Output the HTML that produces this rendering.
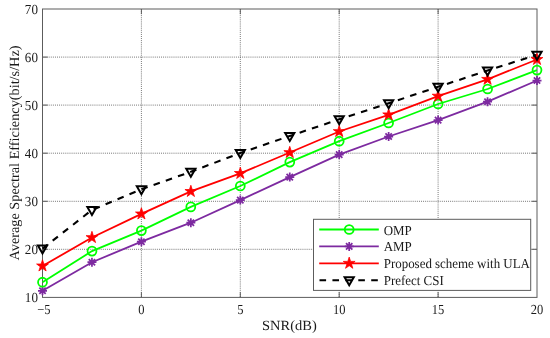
<!DOCTYPE html><html><head><meta charset="utf-8"><title>Average Spectral Efficiency vs SNR</title><style>html,body{margin:0;padding:0;background:#fff}svg{display:block}text{font-family:"Liberation Serif","Times New Roman",serif;fill:#1a1a1a;text-rendering:geometricPrecision}</style></head><body>
<svg width="550" height="338" viewBox="0 0 550 338">
<rect width="550" height="338" fill="#fff"/>
<path d="M141.4,9.0V297.4M240.3,9.0V297.4M339.2,9.0V297.4M438.1,9.0V297.4M42.5,249.3H537.0M42.5,201.3H537.0M42.5,153.2H537.0M42.5,105.1H537.0M42.5,57.1H537.0" stroke="#444" stroke-width="0.8" stroke-dasharray="0.9 1.18" fill="none"/>
<path d="M141.4,297.4v-5.2M141.4,9.0v5.2M240.3,297.4v-5.2M240.3,9.0v5.2M339.2,297.4v-5.2M339.2,9.0v5.2M438.1,297.4v-5.2M438.1,9.0v5.2M42.5,249.3h5.2M537.0,249.3h-5.2M42.5,201.3h5.2M537.0,201.3h-5.2M42.5,153.2h5.2M537.0,153.2h-5.2M42.5,105.1h5.2M537.0,105.1h-5.2M42.5,57.1h5.2M537.0,57.1h-5.2" stroke="#5c5c5c" stroke-width="1" fill="none"/>
<rect x="42.5" y="9.0" width="494.5" height="288.4" fill="none" stroke="#5c5c5c" stroke-width="1"/>
<polyline points="42.5,290.8 92.0,262.2 141.4,241.7 190.8,222.7 240.3,200.1 289.8,177.1 339.2,154.6 388.6,136.5 438.1,120.1 487.6,101.7 537.0,80.5" fill="none" stroke="#7d2aa0" stroke-width="1.8"/>
<polyline points="42.5,282.2 92.0,251.1 141.4,230.6 190.8,206.9 240.3,186.0 289.8,162.1 339.2,141.2 388.6,123.0 438.1,104.0 487.6,89.0 537.0,70.1" fill="none" stroke="#00ff00" stroke-width="1.8"/>
<polyline points="42.5,266.0 92.0,237.5 141.4,213.9 190.8,191.4 240.3,173.4 289.8,152.5 339.2,131.5 388.6,114.8 438.1,96.1 487.6,79.3 537.0,59.5" fill="none" stroke="#ff0000" stroke-width="1.8"/>
<polyline points="42.5,248.6 92.0,209.9 141.4,189.3 190.8,171.8 240.3,153.0 289.8,136.0 339.2,119.3 388.6,103.3 438.1,86.8 487.6,70.6 537.0,54.7" fill="none" stroke="#000" stroke-width="2.1" stroke-dasharray="6.6 6.33"/>
<path d="M38.00,290.80L47.00,290.80M39.32,287.62L45.68,293.98M42.50,286.30L42.50,295.30M45.68,287.62L39.32,293.98" stroke="#7d2aa0" stroke-width="1.75" fill="none"/>
<path d="M87.45,262.20L96.45,262.20M88.77,259.02L95.13,265.38M91.95,257.70L91.95,266.70M95.13,259.02L88.77,265.38" stroke="#7d2aa0" stroke-width="1.75" fill="none"/>
<path d="M136.90,241.70L145.90,241.70M138.22,238.52L144.58,244.88M141.40,237.20L141.40,246.20M144.58,238.52L138.22,244.88" stroke="#7d2aa0" stroke-width="1.75" fill="none"/>
<path d="M186.35,222.70L195.35,222.70M187.67,219.52L194.03,225.88M190.85,218.20L190.85,227.20M194.03,219.52L187.67,225.88" stroke="#7d2aa0" stroke-width="1.75" fill="none"/>
<path d="M235.80,200.10L244.80,200.10M237.12,196.92L243.48,203.28M240.30,195.60L240.30,204.60M243.48,196.92L237.12,203.28" stroke="#7d2aa0" stroke-width="1.75" fill="none"/>
<path d="M285.25,177.10L294.25,177.10M286.57,173.92L292.93,180.28M289.75,172.60L289.75,181.60M292.93,173.92L286.57,180.28" stroke="#7d2aa0" stroke-width="1.75" fill="none"/>
<path d="M334.70,154.60L343.70,154.60M336.02,151.42L342.38,157.78M339.20,150.10L339.20,159.10M342.38,151.42L336.02,157.78" stroke="#7d2aa0" stroke-width="1.75" fill="none"/>
<path d="M384.15,136.50L393.15,136.50M385.47,133.32L391.83,139.68M388.65,132.00L388.65,141.00M391.83,133.32L385.47,139.68" stroke="#7d2aa0" stroke-width="1.75" fill="none"/>
<path d="M433.60,120.10L442.60,120.10M434.92,116.92L441.28,123.28M438.10,115.60L438.10,124.60M441.28,116.92L434.92,123.28" stroke="#7d2aa0" stroke-width="1.75" fill="none"/>
<path d="M483.05,101.70L492.05,101.70M484.37,98.52L490.73,104.88M487.55,97.20L487.55,106.20M490.73,98.52L484.37,104.88" stroke="#7d2aa0" stroke-width="1.75" fill="none"/>
<path d="M532.50,80.50L541.50,80.50M533.82,77.32L540.18,83.68M537.00,76.00L537.00,85.00M540.18,77.32L533.82,83.68" stroke="#7d2aa0" stroke-width="1.75" fill="none"/>
<circle cx="42.5" cy="282.2" r="4.45" fill="none" stroke="#00ff00" stroke-width="1.8"/>
<circle cx="92.0" cy="251.1" r="4.45" fill="none" stroke="#00ff00" stroke-width="1.8"/>
<circle cx="141.4" cy="230.6" r="4.45" fill="none" stroke="#00ff00" stroke-width="1.8"/>
<circle cx="190.8" cy="206.9" r="4.45" fill="none" stroke="#00ff00" stroke-width="1.8"/>
<circle cx="240.3" cy="186.0" r="4.45" fill="none" stroke="#00ff00" stroke-width="1.8"/>
<circle cx="289.8" cy="162.1" r="4.45" fill="none" stroke="#00ff00" stroke-width="1.8"/>
<circle cx="339.2" cy="141.2" r="4.45" fill="none" stroke="#00ff00" stroke-width="1.8"/>
<circle cx="388.6" cy="123.0" r="4.45" fill="none" stroke="#00ff00" stroke-width="1.8"/>
<circle cx="438.1" cy="104.0" r="4.45" fill="none" stroke="#00ff00" stroke-width="1.8"/>
<circle cx="487.6" cy="89.0" r="4.45" fill="none" stroke="#00ff00" stroke-width="1.8"/>
<circle cx="537.0" cy="70.1" r="4.45" fill="none" stroke="#00ff00" stroke-width="1.8"/>
<polygon points="42.50,259.75 43.89,264.03 48.40,264.03 44.75,266.68 46.14,270.97 42.50,268.32 38.86,270.97 40.25,266.68 36.60,264.03 41.11,264.03" fill="#ff0000" stroke="#ff0000" stroke-width="0.8" stroke-linejoin="miter"/>
<polygon points="91.95,231.35 93.34,235.63 97.85,235.63 94.20,238.28 95.59,242.57 91.95,239.92 88.31,242.57 89.70,238.28 86.05,235.63 90.56,235.63" fill="#ff0000" stroke="#ff0000" stroke-width="0.8" stroke-linejoin="miter"/>
<polygon points="141.40,207.75 142.79,212.03 147.30,212.03 143.65,214.68 145.04,218.97 141.40,216.32 137.76,218.97 139.15,214.68 135.50,212.03 140.01,212.03" fill="#ff0000" stroke="#ff0000" stroke-width="0.8" stroke-linejoin="miter"/>
<polygon points="190.85,185.25 192.24,189.53 196.75,189.53 193.10,192.18 194.49,196.47 190.85,193.82 187.21,196.47 188.60,192.18 184.95,189.53 189.46,189.53" fill="#ff0000" stroke="#ff0000" stroke-width="0.8" stroke-linejoin="miter"/>
<polygon points="240.30,167.25 241.69,171.53 246.20,171.53 242.55,174.18 243.94,178.47 240.30,175.82 236.66,178.47 238.05,174.18 234.40,171.53 238.91,171.53" fill="#ff0000" stroke="#ff0000" stroke-width="0.8" stroke-linejoin="miter"/>
<polygon points="289.75,146.35 291.14,150.63 295.65,150.63 292.00,153.28 293.39,157.57 289.75,154.92 286.11,157.57 287.50,153.28 283.85,150.63 288.36,150.63" fill="#ff0000" stroke="#ff0000" stroke-width="0.8" stroke-linejoin="miter"/>
<polygon points="339.20,125.35 340.59,129.63 345.10,129.63 341.45,132.28 342.84,136.57 339.20,133.92 335.56,136.57 336.95,132.28 333.30,129.63 337.81,129.63" fill="#ff0000" stroke="#ff0000" stroke-width="0.8" stroke-linejoin="miter"/>
<polygon points="388.65,108.65 390.04,112.93 394.55,112.93 390.90,115.58 392.29,119.87 388.65,117.22 385.01,119.87 386.40,115.58 382.75,112.93 387.26,112.93" fill="#ff0000" stroke="#ff0000" stroke-width="0.8" stroke-linejoin="miter"/>
<polygon points="438.10,89.95 439.49,94.23 444.00,94.23 440.35,96.88 441.74,101.17 438.10,98.52 434.46,101.17 435.85,96.88 432.20,94.23 436.71,94.23" fill="#ff0000" stroke="#ff0000" stroke-width="0.8" stroke-linejoin="miter"/>
<polygon points="487.55,73.15 488.94,77.43 493.45,77.43 489.80,80.08 491.19,84.37 487.55,81.72 483.91,84.37 485.30,80.08 481.65,77.43 486.16,77.43" fill="#ff0000" stroke="#ff0000" stroke-width="0.8" stroke-linejoin="miter"/>
<polygon points="537.00,53.25 538.39,57.53 542.90,57.53 539.25,60.18 540.64,64.47 537.00,61.82 533.36,64.47 534.75,60.18 531.10,57.53 535.61,57.53" fill="#ff0000" stroke="#ff0000" stroke-width="0.8" stroke-linejoin="miter"/>
<polygon points="37.90,245.60 47.10,245.60 42.50,253.60" fill="none" stroke="#000" stroke-width="2" stroke-linejoin="miter"/>
<polygon points="87.35,206.90 96.55,206.90 91.95,214.90" fill="none" stroke="#000" stroke-width="2" stroke-linejoin="miter"/>
<polygon points="136.80,186.30 146.00,186.30 141.40,194.30" fill="none" stroke="#000" stroke-width="2" stroke-linejoin="miter"/>
<polygon points="186.25,168.80 195.45,168.80 190.85,176.80" fill="none" stroke="#000" stroke-width="2" stroke-linejoin="miter"/>
<polygon points="235.70,150.00 244.90,150.00 240.30,158.00" fill="none" stroke="#000" stroke-width="2" stroke-linejoin="miter"/>
<polygon points="285.15,133.00 294.35,133.00 289.75,141.00" fill="none" stroke="#000" stroke-width="2" stroke-linejoin="miter"/>
<polygon points="334.60,116.30 343.80,116.30 339.20,124.30" fill="none" stroke="#000" stroke-width="2" stroke-linejoin="miter"/>
<polygon points="384.05,100.30 393.25,100.30 388.65,108.30" fill="none" stroke="#000" stroke-width="2" stroke-linejoin="miter"/>
<polygon points="433.50,83.80 442.70,83.80 438.10,91.80" fill="none" stroke="#000" stroke-width="2" stroke-linejoin="miter"/>
<polygon points="482.95,67.60 492.15,67.60 487.55,75.60" fill="none" stroke="#000" stroke-width="2" stroke-linejoin="miter"/>
<polygon points="532.40,51.70 541.60,51.70 537.00,59.70" fill="none" stroke="#000" stroke-width="2" stroke-linejoin="miter"/>
<rect x="313.5" y="219.3" width="217.2" height="71.1" fill="#fff" stroke="#5c5c5c" stroke-width="1"/>
<path d="M319.2,229.5H378.8" stroke="#00ff00" stroke-width="1.8"/><circle cx="349.2" cy="229.5" r="4.45" fill="none" stroke="#00ff00" stroke-width="1.8"/>
<path d="M319.2,246.4H378.8" stroke="#7d2aa0" stroke-width="1.8"/><path d="M344.70,246.40L353.70,246.40M346.02,243.22L352.38,249.58M349.20,241.90L349.20,250.90M352.38,243.22L346.02,249.58" stroke="#7d2aa0" stroke-width="1.75" fill="none"/>
<path d="M319.2,263.3H378.8" stroke="#ff0000" stroke-width="1.8"/><polygon points="349.20,257.10 350.59,261.38 355.10,261.38 351.45,264.03 352.84,268.32 349.20,265.67 345.56,268.32 346.95,264.03 343.30,261.38 347.81,261.38" fill="#ff0000" stroke="#ff0000" stroke-width="0.8" stroke-linejoin="miter"/>
<path d="M319.5,280.2H378.8" stroke="#000" stroke-width="2.1" stroke-dasharray="6.6 6.33"/><polygon points="344.60,277.20 353.80,277.20 349.20,285.20" fill="none" stroke="#000" stroke-width="2" stroke-linejoin="miter"/>
<text transform="translate(383.7,234.5) scale(0.945,1)" font-size="13.7">OMP</text>
<text transform="translate(383.7,251.4) scale(0.945,1)" font-size="13.7">AMP</text>
<text transform="translate(383.7,268.3) scale(0.945,1)" font-size="13.7">Proposed scheme with ULA</text>
<text transform="translate(383.7,285.2) scale(0.945,1)" font-size="13.7">Prefect CSI</text>
<text transform="translate(43.9,314.2) scale(0.905,1)" font-size="13.8" text-anchor="middle">−5</text>
<text transform="translate(141.4,314.2) scale(0.905,1)" font-size="13.8" text-anchor="middle">0</text>
<text transform="translate(240.3,314.2) scale(0.905,1)" font-size="13.8" text-anchor="middle">5</text>
<text transform="translate(339.2,314.2) scale(0.905,1)" font-size="13.8" text-anchor="middle">10</text>
<text transform="translate(438.1,314.2) scale(0.905,1)" font-size="13.8" text-anchor="middle">15</text>
<text transform="translate(537.0,314.2) scale(0.905,1)" font-size="13.8" text-anchor="middle">20</text>
<text transform="translate(37.9,302.2) scale(0.945,1)" font-size="13.8" text-anchor="end">10</text>
<text transform="translate(37.9,254.1) scale(0.945,1)" font-size="13.8" text-anchor="end">20</text>
<text transform="translate(37.9,206.1) scale(0.945,1)" font-size="13.8" text-anchor="end">30</text>
<text transform="translate(37.9,158.0) scale(0.945,1)" font-size="13.8" text-anchor="end">40</text>
<text transform="translate(37.9,109.9) scale(0.945,1)" font-size="13.8" text-anchor="end">50</text>
<text transform="translate(37.9,61.9) scale(0.945,1)" font-size="13.8" text-anchor="end">60</text>
<text transform="translate(37.9,13.8) scale(0.945,1)" font-size="13.8" text-anchor="end">70</text>
<text x="289.4" y="330.2" font-size="14" text-anchor="middle" textLength="54.7" lengthAdjust="spacingAndGlyphs">SNR(dB)</text>
<text transform="translate(18.6,153.0) rotate(-90)" font-size="14" text-anchor="middle" textLength="215" lengthAdjust="spacingAndGlyphs">Average Spectral Efficiency(bit/s/Hz)</text>
</svg></body></html>
